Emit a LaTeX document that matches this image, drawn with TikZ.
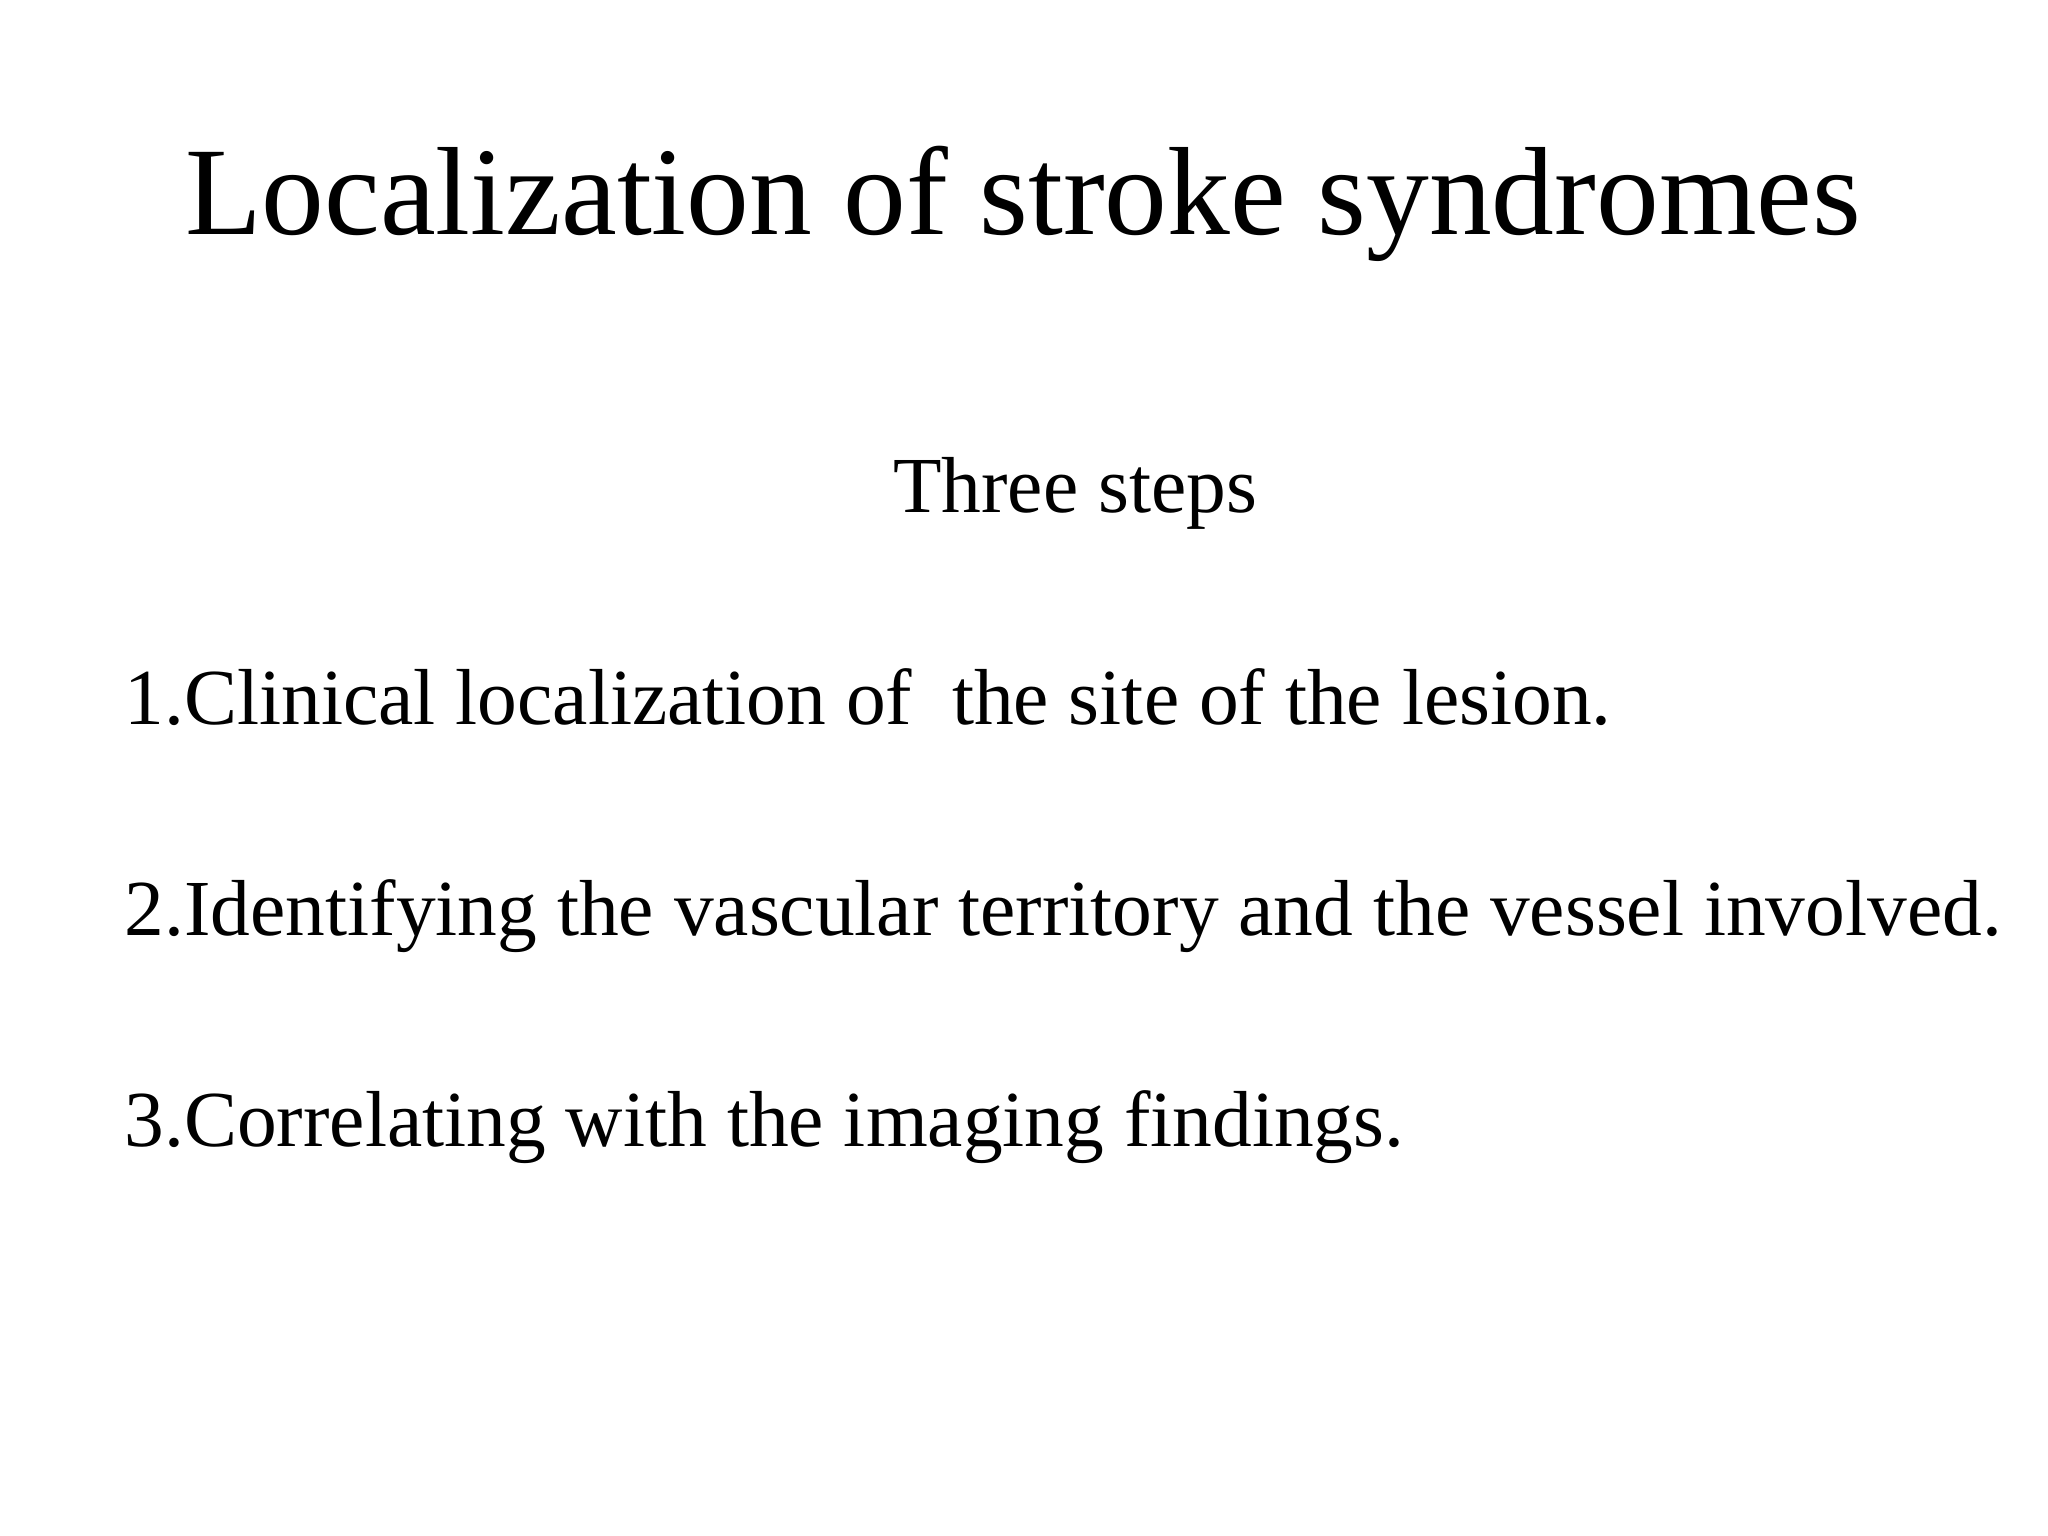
\documentclass[tikz,border=0pt]{standalone}
\usepackage{fontspec}
\setmainfont{Liberation Serif}
\begin{document}
\begin{tikzpicture}[x=1cm,y=1cm,
  item/.style={anchor=base west,inner sep=0pt,font=\fontsize{22.6}{27}\selectfont}]
\useasboundingbox[fill=white] (0,0) rectangle (20.48,15.36);
\node[anchor=base,inner sep=0pt,font=\fontsize{35.7}{42}\selectfont] (title) at (10.23,13.01) {Localization of stroke syndromes};
\node[anchor=base,inner sep=0pt,font=\fontsize{22.6}{27}\selectfont] (sub) at (10.75,10.23) {Three steps};
\node[item] (s1) at (1.24,8.11) {1.Clinical localization of\ \ the site of the lesion.};
\node[item] (s2) at (1.24,6.00) {2.Identifying the vascular territory and the vessel involved.};
\node[item] (s3) at (1.24,3.89) {3.Correlating with the imaging findings.};
\end{tikzpicture}
\end{document}
